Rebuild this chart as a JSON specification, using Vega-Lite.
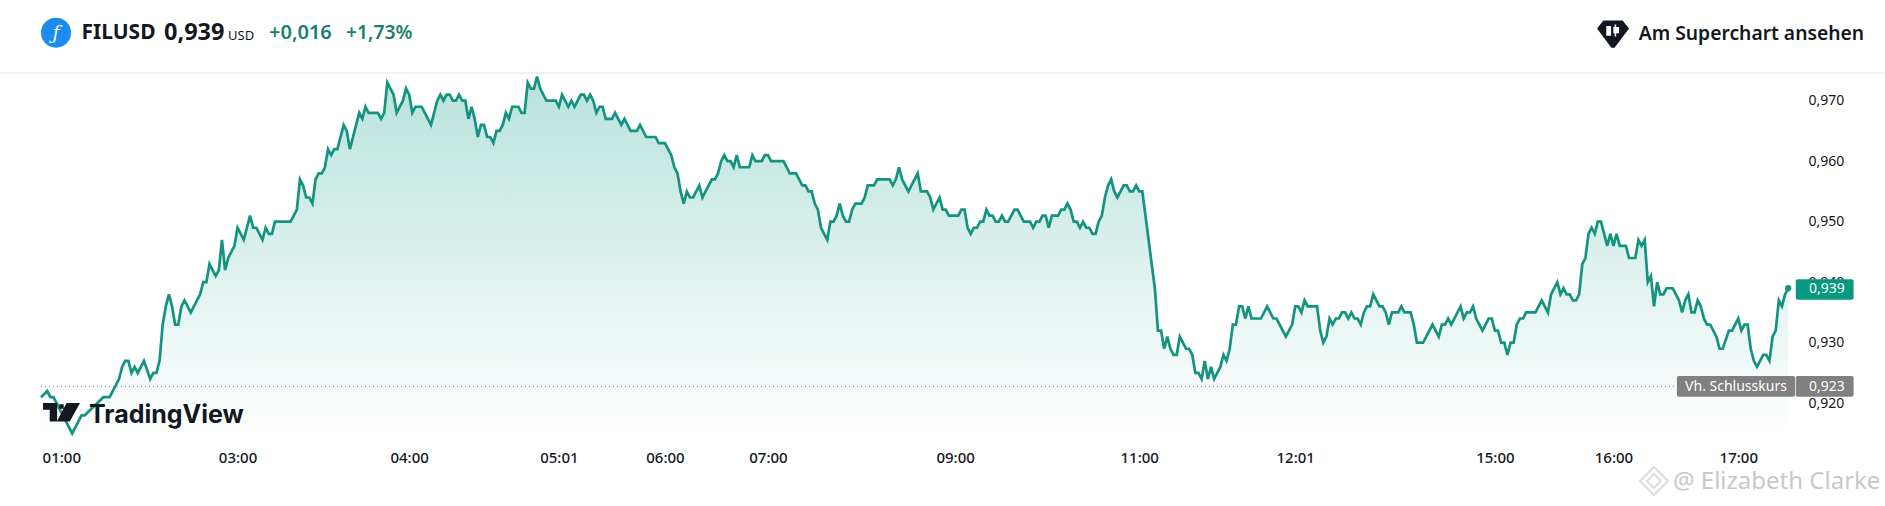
{"$schema":"https://vega.github.io/schema/vega-lite/v6.json","width":1885,"height":506,"padding":0,"autosize":{"type":"none"},"background":"#ffffff","config":{"view":{"stroke":null}},
"datasets":{"one":[{"row":1}],"price":[{"bar":0,"price":0.921},{"bar":2,"price":0.922},{"bar":3,"price":0.921},{"bar":4,"price":0.921},{"bar":5,"price":0.92},{"bar":6,"price":0.919},{"bar":8,"price":0.917},{"bar":9,"price":0.916},{"bar":10,"price":0.915},{"bar":12,"price":0.917},{"bar":13,"price":0.918},{"bar":14,"price":0.918},{"bar":16,"price":0.919},{"bar":18,"price":0.92},{"bar":20,"price":0.921},{"bar":22,"price":0.921},{"bar":24,"price":0.923},{"bar":25,"price":0.924},{"bar":26,"price":0.926},{"bar":27,"price":0.927},{"bar":28,"price":0.927},{"bar":29,"price":0.925},{"bar":30,"price":0.926},{"bar":31,"price":0.925},{"bar":33,"price":0.927},{"bar":35,"price":0.924},{"bar":36,"price":0.925},{"bar":37,"price":0.925},{"bar":38,"price":0.927},{"bar":39,"price":0.933},{"bar":40,"price":0.936},{"bar":41,"price":0.938},{"bar":42,"price":0.936},{"bar":43,"price":0.933},{"bar":44,"price":0.933},{"bar":45,"price":0.936},{"bar":46,"price":0.937},{"bar":48,"price":0.935},{"bar":51,"price":0.938},{"bar":52,"price":0.94},{"bar":53,"price":0.94},{"bar":54,"price":0.943},{"bar":56,"price":0.941},{"bar":57,"price":0.942},{"bar":58,"price":0.947},{"bar":59,"price":0.942},{"bar":60,"price":0.944},{"bar":62,"price":0.946},{"bar":63,"price":0.949},{"bar":65,"price":0.947},{"bar":67,"price":0.951},{"bar":68,"price":0.949},{"bar":69,"price":0.949},{"bar":71,"price":0.947},{"bar":72,"price":0.949},{"bar":73,"price":0.948},{"bar":74,"price":0.948},{"bar":75,"price":0.95},{"bar":80,"price":0.95},{"bar":82,"price":0.952},{"bar":83,"price":0.957},{"bar":84,"price":0.956},{"bar":85,"price":0.954},{"bar":86,"price":0.954},{"bar":87,"price":0.953},{"bar":88,"price":0.957},{"bar":89,"price":0.958},{"bar":90,"price":0.958},{"bar":91,"price":0.959},{"bar":92,"price":0.962},{"bar":93,"price":0.961},{"bar":94,"price":0.962},{"bar":95,"price":0.962},{"bar":96,"price":0.964},{"bar":97,"price":0.966},{"bar":98,"price":0.965},{"bar":99,"price":0.962},{"bar":102,"price":0.968},{"bar":103,"price":0.967},{"bar":104,"price":0.969},{"bar":105,"price":0.968},{"bar":108,"price":0.968},{"bar":109,"price":0.967},{"bar":110,"price":0.968},{"bar":111,"price":0.973},{"bar":113,"price":0.971},{"bar":114,"price":0.968},{"bar":116,"price":0.97},{"bar":117,"price":0.972},{"bar":118,"price":0.971},{"bar":119,"price":0.968},{"bar":120,"price":0.969},{"bar":122,"price":0.969},{"bar":125,"price":0.966},{"bar":127,"price":0.97},{"bar":128,"price":0.971},{"bar":129,"price":0.97},{"bar":130,"price":0.971},{"bar":131,"price":0.971},{"bar":132,"price":0.97},{"bar":133,"price":0.97},{"bar":134,"price":0.971},{"bar":135,"price":0.97},{"bar":136,"price":0.97},{"bar":137,"price":0.967},{"bar":138,"price":0.969},{"bar":139,"price":0.967},{"bar":140,"price":0.964},{"bar":141,"price":0.966},{"bar":142,"price":0.966},{"bar":143,"price":0.964},{"bar":144,"price":0.964},{"bar":145,"price":0.963},{"bar":146,"price":0.965},{"bar":147,"price":0.965},{"bar":148,"price":0.966},{"bar":149,"price":0.968},{"bar":150,"price":0.967},{"bar":151,"price":0.969},{"bar":153,"price":0.969},{"bar":154,"price":0.968},{"bar":155,"price":0.968},{"bar":156,"price":0.973},{"bar":157,"price":0.972},{"bar":158,"price":0.972},{"bar":159,"price":0.974},{"bar":160,"price":0.972},{"bar":161,"price":0.971},{"bar":162,"price":0.97},{"bar":165,"price":0.97},{"bar":166,"price":0.969},{"bar":167,"price":0.971},{"bar":169,"price":0.969},{"bar":170,"price":0.97},{"bar":171,"price":0.969},{"bar":173,"price":0.971},{"bar":174,"price":0.971},{"bar":175,"price":0.97},{"bar":176,"price":0.971},{"bar":177,"price":0.97},{"bar":178,"price":0.968},{"bar":179,"price":0.969},{"bar":180,"price":0.969},{"bar":181,"price":0.967},{"bar":183,"price":0.967},{"bar":184,"price":0.968},{"bar":185,"price":0.967},{"bar":186,"price":0.966},{"bar":187,"price":0.967},{"bar":189,"price":0.965},{"bar":191,"price":0.965},{"bar":192,"price":0.966},{"bar":194,"price":0.964},{"bar":197,"price":0.964},{"bar":198,"price":0.963},{"bar":200,"price":0.963},{"bar":202,"price":0.961},{"bar":203,"price":0.959},{"bar":204,"price":0.958},{"bar":205,"price":0.955},{"bar":206,"price":0.953},{"bar":207,"price":0.955},{"bar":208,"price":0.954},{"bar":209,"price":0.954},{"bar":211,"price":0.956},{"bar":212,"price":0.954},{"bar":215,"price":0.957},{"bar":216,"price":0.957},{"bar":217,"price":0.958},{"bar":218,"price":0.96},{"bar":219,"price":0.961},{"bar":220,"price":0.96},{"bar":221,"price":0.96},{"bar":222,"price":0.959},{"bar":223,"price":0.961},{"bar":224,"price":0.959},{"bar":227,"price":0.959},{"bar":228,"price":0.961},{"bar":229,"price":0.96},{"bar":231,"price":0.96},{"bar":232,"price":0.961},{"bar":233,"price":0.961},{"bar":234,"price":0.96},{"bar":238,"price":0.96},{"bar":240,"price":0.958},{"bar":242,"price":0.958},{"bar":244,"price":0.956},{"bar":245,"price":0.956},{"bar":246,"price":0.955},{"bar":247,"price":0.955},{"bar":248,"price":0.953},{"bar":249,"price":0.952},{"bar":250,"price":0.949},{"bar":252,"price":0.947},{"bar":253,"price":0.95},{"bar":254,"price":0.95},{"bar":255,"price":0.951},{"bar":256,"price":0.953},{"bar":257,"price":0.951},{"bar":258,"price":0.95},{"bar":259,"price":0.95},{"bar":260,"price":0.952},{"bar":261,"price":0.953},{"bar":263,"price":0.953},{"bar":264,"price":0.954},{"bar":265,"price":0.956},{"bar":267,"price":0.956},{"bar":268,"price":0.957},{"bar":272,"price":0.957},{"bar":273,"price":0.956},{"bar":274,"price":0.957},{"bar":275,"price":0.959},{"bar":276,"price":0.957},{"bar":278,"price":0.955},{"bar":279,"price":0.956},{"bar":280,"price":0.957},{"bar":281,"price":0.958},{"bar":282,"price":0.955},{"bar":284,"price":0.955},{"bar":285,"price":0.954},{"bar":286,"price":0.952},{"bar":288,"price":0.954},{"bar":289,"price":0.952},{"bar":290,"price":0.952},{"bar":291,"price":0.951},{"bar":294,"price":0.951},{"bar":295,"price":0.952},{"bar":296,"price":0.952},{"bar":297,"price":0.949},{"bar":298,"price":0.948},{"bar":299,"price":0.949},{"bar":300,"price":0.949},{"bar":301,"price":0.95},{"bar":302,"price":0.95},{"bar":303,"price":0.952},{"bar":304,"price":0.951},{"bar":305,"price":0.951},{"bar":306,"price":0.95},{"bar":307,"price":0.95},{"bar":308,"price":0.951},{"bar":309,"price":0.95},{"bar":310,"price":0.95},{"bar":312,"price":0.952},{"bar":313,"price":0.952},{"bar":315,"price":0.95},{"bar":317,"price":0.95},{"bar":318,"price":0.949},{"bar":319,"price":0.95},{"bar":320,"price":0.95},{"bar":321,"price":0.951},{"bar":322,"price":0.951},{"bar":323,"price":0.949},{"bar":324,"price":0.951},{"bar":326,"price":0.951},{"bar":327,"price":0.952},{"bar":328,"price":0.952},{"bar":329,"price":0.953},{"bar":330,"price":0.952},{"bar":331,"price":0.95},{"bar":332,"price":0.95},{"bar":333,"price":0.949},{"bar":334,"price":0.95},{"bar":335,"price":0.949},{"bar":336,"price":0.949},{"bar":337,"price":0.948},{"bar":338,"price":0.948},{"bar":339,"price":0.95},{"bar":340,"price":0.951},{"bar":341,"price":0.954},{"bar":342,"price":0.956},{"bar":343,"price":0.957},{"bar":344,"price":0.955},{"bar":345,"price":0.954},{"bar":347,"price":0.956},{"bar":348,"price":0.956},{"bar":349,"price":0.955},{"bar":350,"price":0.955},{"bar":351,"price":0.956},{"bar":352,"price":0.955},{"bar":353,"price":0.955},{"bar":354,"price":0.951},{"bar":356,"price":0.943},{"bar":357,"price":0.939},{"bar":358,"price":0.932},{"bar":359,"price":0.932},{"bar":360,"price":0.929},{"bar":361,"price":0.931},{"bar":362,"price":0.929},{"bar":363,"price":0.928},{"bar":364,"price":0.928},{"bar":365,"price":0.931},{"bar":366,"price":0.93},{"bar":367,"price":0.929},{"bar":368,"price":0.929},{"bar":369,"price":0.928},{"bar":370,"price":0.925},{"bar":371,"price":0.925},{"bar":372,"price":0.924},{"bar":373,"price":0.927},{"bar":374,"price":0.924},{"bar":375,"price":0.926},{"bar":376,"price":0.924},{"bar":378,"price":0.926},{"bar":379,"price":0.928},{"bar":380,"price":0.927},{"bar":381,"price":0.929},{"bar":382,"price":0.933},{"bar":383,"price":0.933},{"bar":384,"price":0.936},{"bar":385,"price":0.936},{"bar":386,"price":0.934},{"bar":387,"price":0.936},{"bar":388,"price":0.934},{"bar":391,"price":0.934},{"bar":393,"price":0.936},{"bar":395,"price":0.934},{"bar":396,"price":0.934},{"bar":399,"price":0.931},{"bar":401,"price":0.933},{"bar":402,"price":0.936},{"bar":403,"price":0.936},{"bar":404,"price":0.935},{"bar":405,"price":0.937},{"bar":406,"price":0.936},{"bar":409,"price":0.936},{"bar":410,"price":0.932},{"bar":411,"price":0.93},{"bar":412,"price":0.931},{"bar":413,"price":0.934},{"bar":414,"price":0.933},{"bar":415,"price":0.934},{"bar":416,"price":0.934},{"bar":417,"price":0.935},{"bar":418,"price":0.935},{"bar":419,"price":0.934},{"bar":420,"price":0.935},{"bar":421,"price":0.934},{"bar":422,"price":0.934},{"bar":423,"price":0.933},{"bar":424,"price":0.935},{"bar":425,"price":0.936},{"bar":426,"price":0.936},{"bar":427,"price":0.938},{"bar":429,"price":0.936},{"bar":430,"price":0.936},{"bar":431,"price":0.935},{"bar":432,"price":0.933},{"bar":433,"price":0.935},{"bar":435,"price":0.935},{"bar":436,"price":0.936},{"bar":437,"price":0.935},{"bar":439,"price":0.935},{"bar":440,"price":0.933},{"bar":441,"price":0.93},{"bar":443,"price":0.93},{"bar":446,"price":0.933},{"bar":448,"price":0.931},{"bar":449,"price":0.933},{"bar":450,"price":0.933},{"bar":451,"price":0.934},{"bar":452,"price":0.933},{"bar":455,"price":0.936},{"bar":456,"price":0.934},{"bar":457,"price":0.935},{"bar":458,"price":0.935},{"bar":459,"price":0.936},{"bar":460,"price":0.934},{"bar":462,"price":0.932},{"bar":464,"price":0.934},{"bar":465,"price":0.934},{"bar":466,"price":0.932},{"bar":467,"price":0.932},{"bar":468,"price":0.93},{"bar":469,"price":0.93},{"bar":470,"price":0.928},{"bar":471,"price":0.93},{"bar":472,"price":0.93},{"bar":473,"price":0.933},{"bar":474,"price":0.934},{"bar":475,"price":0.934},{"bar":476,"price":0.935},{"bar":479,"price":0.935},{"bar":481,"price":0.937},{"bar":483,"price":0.935},{"bar":484,"price":0.938},{"bar":486,"price":0.94},{"bar":487,"price":0.938},{"bar":488,"price":0.939},{"bar":489,"price":0.938},{"bar":490,"price":0.938},{"bar":491,"price":0.937},{"bar":492,"price":0.937},{"bar":493,"price":0.938},{"bar":494,"price":0.943},{"bar":495,"price":0.944},{"bar":496,"price":0.948},{"bar":497,"price":0.949},{"bar":498,"price":0.948},{"bar":499,"price":0.95},{"bar":500,"price":0.95},{"bar":502,"price":0.946},{"bar":503,"price":0.948},{"bar":504,"price":0.946},{"bar":505,"price":0.948},{"bar":506,"price":0.946},{"bar":508,"price":0.946},{"bar":509,"price":0.944},{"bar":511,"price":0.944},{"bar":512,"price":0.947},{"bar":513,"price":0.946},{"bar":514,"price":0.947},{"bar":515,"price":0.94},{"bar":516,"price":0.941},{"bar":517,"price":0.936},{"bar":518,"price":0.94},{"bar":519,"price":0.938},{"bar":520,"price":0.938},{"bar":521,"price":0.939},{"bar":523,"price":0.939},{"bar":525,"price":0.937},{"bar":526,"price":0.935},{"bar":527,"price":0.937},{"bar":528,"price":0.938},{"bar":529,"price":0.935},{"bar":530,"price":0.935},{"bar":531,"price":0.937},{"bar":532,"price":0.936},{"bar":533,"price":0.934},{"bar":534,"price":0.933},{"bar":535,"price":0.933},{"bar":537,"price":0.931},{"bar":538,"price":0.929},{"bar":539,"price":0.929},{"bar":541,"price":0.932},{"bar":542,"price":0.932},{"bar":544,"price":0.934},{"bar":545,"price":0.932},{"bar":546,"price":0.933},{"bar":547,"price":0.933},{"bar":548,"price":0.929},{"bar":549,"price":0.927},{"bar":550,"price":0.926},{"bar":552,"price":0.928},{"bar":553,"price":0.928},{"bar":554,"price":0.927},{"bar":555,"price":0.931},{"bar":556,"price":0.932},{"bar":557,"price":0.937},{"bar":558,"price":0.936},{"bar":559,"price":0.938},{"bar":560,"price":0.939}]},
"layer":[
{"data":{"name":"price"},"mark":{"type":"area","color":{"gradient":"linear","x1":0,"y1":0,"x2":0,"y2":1,"stops":[{"offset":0,"color":"#b9e2db"},{"offset":1,"color":"#ffffff"}]}},
"encoding":{"x":{"field":"bar","type":"quantitative","scale":{"domain":[-13.14,591.03],"nice":false,"zero":false},"axis":{"orient":"bottom","title":null,"domain":false,"ticks":false,"grid":false,"offset":-49,"labelPadding":0,"labelBaseline":"middle","labelFont":"Noto Sans","labelFontSize":15,"labelFontWeight":500,"labelColor":"#131722","labelOverlap":false,"labelFlush":false,"values":[6.5,63,118,166,200,233,293,352,402,466,504,544],"labelExpr":"{'6.5':'01:00','63':'03:00','118':'04:00','166':'05:01','200':'06:00','233':'07:00','293':'09:00','352':'11:00','402':'12:01','466':'15:00','504':'16:00','544':'17:00'}[datum.value]"}},
"y":{"field":"price","type":"quantitative","scale":{"domain":[0.90301,0.986645],"nice":false,"zero":false},"axis":{"orient":"right","title":null,"domain":false,"ticks":false,"grid":false,"offset":-77,"labelPadding":0,"labelFont":"Noto Sans","labelFontSize":14,"labelColor":"#131722","labelOverlap":false,"labelFlush":false,"values":[0.92,0.93,0.94,0.95,0.96,0.97],"labelExpr":"replace(format(datum.value,'.3f'),'.',',')"}},
"y2":{"datum":0.91507}}},
{"data":{"name":"one"},"mark":{"type":"rule","color":"#e6e6e6","strokeWidth":1},"encoding":{"y":{"datum":0.97458}}},
{"data":{"name":"one"},"mark":{"type":"rule","color":"#787b86","strokeWidth":1,"strokeDash":[1,3]},"encoding":{"x":{"datum":0},"x2":{"datum":524.33},"y":{"datum":0.9228}}},
{"data":{"name":"price"},"mark":{"type":"line","color":"#14937f","strokeWidth":2.7,"strokeJoin":"miter"},"encoding":{"x":{"field":"bar","type":"quantitative"},"y":{"field":"price","type":"quantitative"}}},
{"data":{"name":"price"},"transform":[{"filter":"datum.bar==560"}],"mark":{"type":"point","filled":true,"size":40,"color":"#14937f","opacity":1},"encoding":{"x":{"field":"bar","type":"quantitative"},"y":{"field":"price","type":"quantitative"}}},
{"data":{"name":"one"},"mark":{"type":"rect","color":"#089981","cornerRadius":2},"encoding":{"x":{"datum":562.44},"x2":{"datum":580.96},"y":{"datum":0.94048},"y2":{"datum":0.93711}}},
{"data":{"name":"one"},"mark":{"type":"rect","color":"#808080","cornerRadius":2},"encoding":{"x":{"datum":524.33},"x2":{"datum":562.2},"y":{"datum":0.9245},"y2":{"datum":0.92107}}},
{"data":{"name":"one"},"mark":{"type":"rect","color":"#808080","cornerRadius":2},"encoding":{"x":{"datum":562.44},"x2":{"datum":580.96},"y":{"datum":0.9245},"y2":{"datum":0.92107}}},
{"data":{"name":"one"},"mark":{"type":"text","font":"Noto Sans","fontSize":14,"color":"#ffffff","align":"center","baseline":"middle"},"encoding":{"x":{"datum":572.4},"y":{"datum":0.93893},"text":{"value":"0,939"}}},
{"data":{"name":"one"},"mark":{"type":"text","font":"Noto Sans","fontSize":14,"color":"#ffffff","align":"center","baseline":"middle"},"encoding":{"x":{"datum":572.4},"y":{"datum":0.92276},"text":{"value":"0,923"}}},
{"data":{"name":"one"},"mark":{"type":"text","font":"Noto Sans","fontSize":14,"color":"#ffffff","align":"center","baseline":"middle"},"encoding":{"x":{"datum":543.27},"y":{"datum":0.92276},"text":{"value":"Vh. Schlusskurs"}}},
{"data":{"name":"one"},"mark":{"type":"point","filled":true,"size":900,"color":"#1a8cf0","shape":"circle","opacity":1},"encoding":{"x":{"datum":4.81},"y":{"datum":0.98124}}},
{"data":{"name":"one"},"mark":{"type":"text","font":"DejaVu Serif","fontStyle":"italic","fontSize":19,"color":"#ffffff","align":"center","baseline":"middle"},"encoding":{"x":{"datum":4.81},"y":{"datum":0.98124},"text":{"value":"ƒ"}}},
{"data":{"name":"one"},"mark":{"type":"text","font":"Noto Sans","fontSize":21,"fontWeight":"bold","color":"#131722","align":"left","baseline":"middle"},"encoding":{"x":{"datum":12.98},"y":{"datum":0.98119},"text":{"value":"FILUSD"}}},
{"data":{"name":"one"},"mark":{"type":"text","font":"Noto Sans","fontSize":23.5,"fontWeight":"bold","color":"#131722","align":"left","baseline":"middle"},"encoding":{"x":{"datum":39.42},"y":{"datum":0.98119},"text":{"value":"0,939"}}},
{"data":{"name":"one"},"mark":{"type":"text","font":"Noto Sans","fontSize":13,"color":"#131722","align":"left","baseline":"middle"},"encoding":{"x":{"datum":59.94},"y":{"datum":0.98074},"text":{"value":"USD"}}},
{"data":{"name":"one"},"mark":{"type":"text","font":"Noto Sans","fontSize":20,"fontWeight":600,"color":"#1b7f6e","align":"left","baseline":"middle"},"encoding":{"x":{"datum":73.08},"y":{"datum":0.98119},"text":{"value":"+0,016"}}},
{"data":{"name":"one"},"mark":{"type":"text","font":"Noto Sans","fontSize":19.3,"fontWeight":600,"color":"#1b7f6e","align":"left","baseline":"middle"},"encoding":{"x":{"datum":97.76},"y":{"datum":0.98119},"text":{"value":"+1,73%"}}},
{"data":{"name":"one"},"mark":{"type":"text","font":"Noto Sans","fontSize":19.3,"fontWeight":600,"color":"#131722","align":"left","baseline":"middle"},"encoding":{"x":{"datum":512.08},"y":{"datum":0.98098},"text":{"value":"Am Superchart ansehen"}}},
{"data":{"name":"one"},"mark":{"type":"point","filled":true,"size":1024,"color":"#131722","opacity":1,"shape":"M-0.6,-0.85 L0.6,-0.85 L1,-0.35 L0.1,0.85 L-0.1,0.85 L-1,-0.35 Z"},"encoding":{"x":{"datum":503.85},"y":{"datum":0.98101}}},
{"data":{"name":"one"},"mark":{"type":"point","filled":true,"size":1024,"color":"#ffffff","opacity":1,"shape":"M-0.42,-0.5 L-0.12,-0.5 L-0.12,0.1 L-0.42,0.1 Z M0.1,-0.6 L0.2,-0.6 L0.2,-0.45 L0.38,-0.45 L0.38,-0.05 L0.2,-0.05 L0.2,0.15 L0.1,0.15 L0.1,-0.05 L0.02,-0.05 L0.02,-0.45 L0.1,-0.45 Z"},"encoding":{"x":{"datum":503.85},"y":{"datum":0.98101}}},
{"data":{"name":"one"},"mark":{"type":"point","filled":true,"size":1369,"color":"#131722","opacity":1,"shape":"M-1,-0.51 L-0.236,-0.51 L-0.236,0.49 L-0.636,0.49 L-0.636,-0.145 L-1,-0.145 Z M-0.12,-0.45 L0.12,-0.45 L0.12,-0.2 L-0.12,-0.2 Z M0.27,-0.51 L1,-0.51 L0.45,0.49 L-0.25,0.49 Z"},"encoding":{"x":{"datum":6.57},"y":{"datum":0.91846}}},
{"data":{"name":"one"},"mark":{"type":"text","font":"Inter","fontSize":25,"fontWeight":700,"color":"#131722","align":"left","baseline":"alphabetic"},"encoding":{"x":{"datum":15.4},"y":{"datum":0.9167},"text":{"value":"TradingView"}}},
{"data":{"name":"one"},"mark":{"type":"point","filled":false,"size":784,"color":"#dcdcdc","strokeWidth":2,"opacity":1,"shape":"M0,-1 L1,0 L0,1 L-1,0 Z M0,-0.5 L0.5,0 L0,0.5 L-0.5,0 Z"},"encoding":{"x":{"datum":516.99},"y":{"datum":0.90714}}},
{"data":{"name":"one"},"mark":{"type":"text","font":"Noto Sans","fontSize":24,"color":"#c8c8c8","align":"left","baseline":"middle"},"encoding":{"x":{"datum":523.08},"y":{"datum":0.90698},"text":{"value":"@ Elizabeth Clarke"}}}
]}
